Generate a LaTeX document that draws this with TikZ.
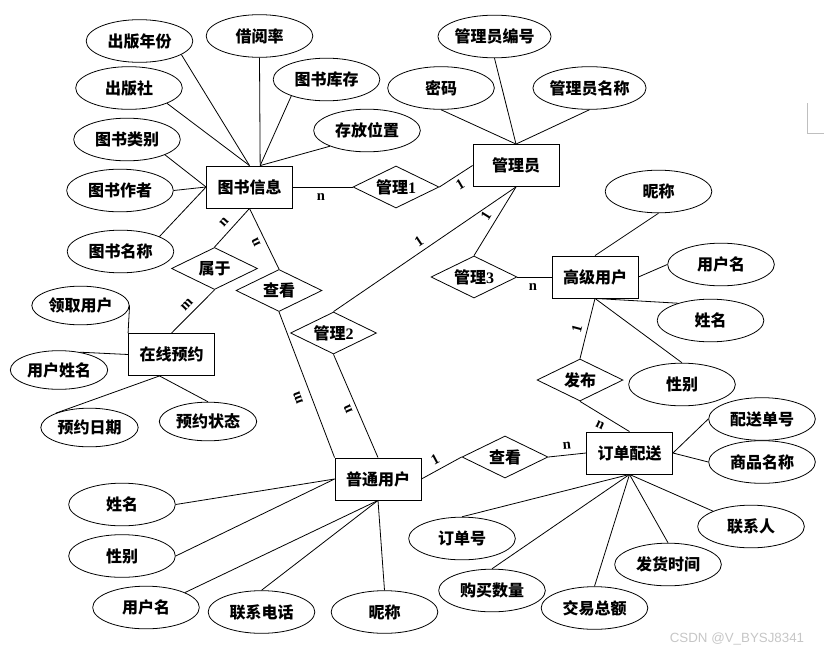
\documentclass[tikz,border=0pt]{standalone}
\usepackage{fontspec}
\setmainfont{Liberation Serif}
\newfontfamily\cjk{Noto Sans CJK SC}
\newfontfamily\wmfont{Liberation Sans}
\usetikzlibrary{shapes.geometric}
\begin{document}
\begin{tikzpicture}[x=0.75pt,y=-0.75pt,line width=0.6pt,
  ent/.style={draw,line width=0.65pt,minimum width=64.5pt,minimum height=31.5pt,inner sep=0pt,font=\cjk\bfseries\fontsize{12}{14}\selectfont},
  attr/.style={draw,ellipse,minimum width=80pt,minimum height=32pt,inner sep=0pt,font=\cjk\bfseries\fontsize{12}{14}\selectfont},
  sattr/.style={attr,minimum width=73pt,minimum height=29pt},
  rel/.style={draw,diamond,aspect=2,minimum width=64.5pt,minimum height=31.5pt,inner sep=0pt,font=\cjk\bfseries\fontsize{12}{14}\selectfont},
  card/.style={inner sep=0pt,font=\bfseries\fontsize{11}{13}\selectfont}]
\useasboundingbox (0,0) rectangle (824,653);

\node[ent](tsxx) at (249.5,187){图书信息};
\node[ent](gly) at (516,165.5){管理员};
\node[ent](gjyh) at (595,277){高级用户};
\node[ent](zxyy) at (171.5,354.5){在线预约};
\node[ent](pt) at (378,479){普通用户};
\node[ent](ddps) at (629.5,453){订单配送};

\node[rel](gl1) at (396,187){管理{\rmfamily 1}};
\node[rel](sy) at (214.5,268.5){属于};
\node[rel](ck1) at (279,290.5){查看};
\node[rel](gl2) at (333.5,333){管理{\rmfamily 2}};
\node[rel](gl3) at (474,277){管理{\rmfamily 3}};
\node[rel](fb) at (580,380){发布};
\node[rel](ck2) at (505,457){查看};

\node[attr](cbnf) at (139.5,41){出版年份};
\node[attr](jyl) at (259.5,36){借阅率};
\node[attr](cbs) at (129,88){出版社};
\node[attr](tskc) at (326.5,79.5){图书库存};
\node[attr](cfwz) at (367,130.5){存放位置};
\node[attr](tslb) at (127,139.5){图书类别};
\node[attr](tszz) at (120,190.5){图书作者};
\node[attr](tsmc) at (120.5,251.5){图书名称};
\node[attr](mm) at (441,88){密码};
\node[attr](glybh) at (494.5,36.5){管理员编号};
\node[attr](glymc) at (589.5,88){管理员名称};
\node[attr](gnc) at (658.5,191.5){昵称};
\node[attr](gyhm) at (721,264.5){用户名};
\node[attr](gxm) at (710.5,320.5){姓名};
\node[attr](gxb) at (682,384.5){性别};
\node[attr](psdh) at (762,419){配送单号};
\node[attr](spmc) at (762,462){商品名称};
\node[attr](lxr) at (751,526.5){联系人};
\node[attr](fhsj) at (668,564.5){发货时间};
\node[attr](jyze) at (594.5,608){交易总额};
\node[attr](gmsl) at (492,590.5){购买数量};
\node[attr](ddh) at (462,538.5){订单号};
\node[sattr](lqyh) at (80.5,305.5){领取用户};
\node[sattr](yhxm) at (59,370){用户姓名};
\node[sattr](yyrq) at (89.5,427.5){预约日期};
\node[sattr](yyzt) at (208,421.5){预约状态};
\node[attr](pxm) at (122,504.5){姓名};
\node[attr](pxb) at (122,556){性别};
\node[attr](pyhm) at (146,607.5){用户名};
\node[attr](lxdh) at (261.5,612){联系电话};
\node[attr](pnc) at (384.5,612){昵称};

\draw (cbnf.-18)--(tsxx.north); \draw (cbs.-22)--(tsxx.north);
\draw (jyl.south)--([xshift=8pt]tsxx.north); \draw (tskc.205)--([xshift=8pt]tsxx.north);
\draw (cfwz.203)--([xshift=8pt]tsxx.north);
\draw (tslb.-22)--(tsxx.west); \draw (tszz.east)--(tsxx.west); \draw (tsmc.21)--(tsxx.west);
\foreach \a in {mm,glybh,glymc} \draw (\a.south)--(gly.north);
\draw (gnc.south)--(gjyh.north); \draw (gyhm.west)--(gjyh.east);
\draw (gxm.152)--(gjyh.south); \draw (gxb.north)--(gjyh.south);
\draw (psdh.west)--(ddps.east); \draw (spmc.west)--(ddps.east);
\draw (lxr.158)--(ddps.south);
\foreach \a in {fhsj,jyze,gmsl,ddh} \draw (\a.north)--(ddps.south);
\draw (lqyh.east)--(zxyy.north west); \draw (yhxm.40)--(zxyy.west);
\draw (yyrq.157)--([xshift=-9pt]zxyy.south); \draw (yyzt.north)--([xshift=-9pt]zxyy.south);
\draw (pxm.east)--(pt.west); \draw (pxb.east)--(pt.west);
\draw (pyhm.21)--(pt.south); \draw (lxdh.north)--(pt.south); \draw (pnc.north)--(pt.south);

\draw (tsxx.east)--(gl1.west); \draw (gl1.east)--(gly.west);
\draw (tsxx.south)--(sy.north); \draw (sy.south)--(zxyy.north);
\draw (tsxx.south)--(ck1.north); \draw (ck1.south)--(pt.north west);
\draw (gly.south)--(gl2.north); \draw (gl2.south)--(pt.north);
\draw (gly.south)--(gl3.north); \draw (gl3.east)--(gjyh.west);
\draw (gjyh.south)--(fb.north); \draw (fb.south)--(ddps.north);
\draw (pt.east)--(ck2.west); \draw (ck2.east)--(ddps.west);

\node[card](c1) at (321,197){n};
\node[card,rotate=30](c2) at (460,184){1};
\node[card,rotate=48](c3) at (224,222){n};
\node[card,rotate=116](c4) at (256,242){n};
\node[card,rotate=46](c5) at (187,305){m};
\node[card,rotate=110](c6) at (298,398){m};
\node[card,rotate=114](c7) at (348,409){n};
\node[card,rotate=34](c8) at (419,241){1};
\node[card,rotate=58](c9) at (486,216){1};
\node[card](c10) at (533,287){n};
\node[card,rotate=75](c11) at (577,329){1};
\node[card,rotate=-25](c12) at (600,425){n};
\node[card,rotate=28](c13) at (435,459){1};
\node[card,rotate=5](c14) at (567,446){n};

\draw[gray!50] (807,103)--(807,133)--(824,133);
\node[font=\wmfont\fontsize{10}{12}\selectfont,text=gray!45](wm) at (737,639){CSDN @V\_BYSJ8341};
\end{tikzpicture}
\end{document}
